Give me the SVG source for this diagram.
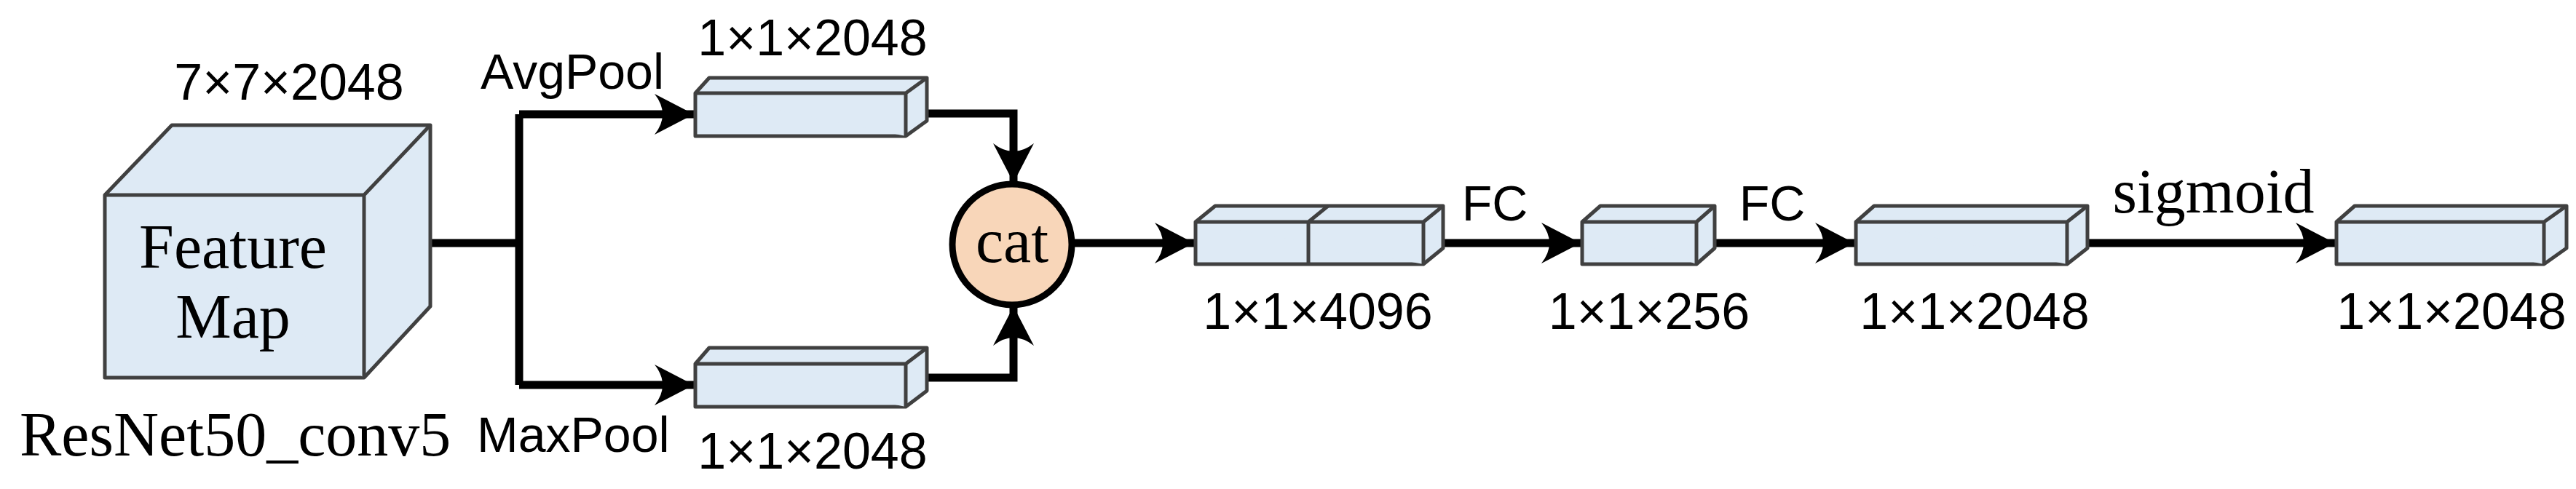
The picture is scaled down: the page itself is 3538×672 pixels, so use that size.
<svg xmlns="http://www.w3.org/2000/svg" width="3538" height="672" viewBox="0 0 3538 672">
<style>
.box{fill:#deeaf5;stroke:#404040;stroke-width:5;stroke-linejoin:round}
.ln{fill:none;stroke:#000;stroke-width:11}
.num{font-family:"Liberation Sans",Arial,sans-serif;font-size:70px;fill:#000}
.lbl{font-family:"Liberation Sans",Arial,sans-serif;font-size:68px;fill:#000}
.ser{font-family:"Liberation Serif","Times New Roman",serif;font-size:86px;fill:#000}
</style>
<defs>
<marker id="ah" markerUnits="userSpaceOnUse" markerWidth="70" markerHeight="70" viewBox="0 0 70 70" refX="60" refY="35" orient="auto">
<path d="M60,35 L6,7 Q28,35 6,63 Z" fill="#000"/>
</marker>
</defs>
<g id="connectors">
<path class="ln" d="M548,334 H713 M713,157 V529" />
<path class="ln" d="M713,157 H953" marker-end="url(#ah)"/>
<path class="ln" d="M713,529 H953" marker-end="url(#ah)"/>
<path class="ln" d="M1263,156 H1392 V251" marker-end="url(#ah)"/>
<path class="ln" d="M1263,519 H1392 V421" marker-end="url(#ah)"/>
<path class="ln" d="M1476,334 H1640" marker-end="url(#ah)"/>
<path class="ln" d="M1962,334 H2171" marker-end="url(#ah)"/>
<path class="ln" d="M2340,334 H2547" marker-end="url(#ah)"/>
<path class="ln" d="M2852,334 H3207" marker-end="url(#ah)"/>
</g>
<g id="featuremap">
<path class="box" d="M144,268 L236,172 H591 V421 L500,519 H144 Z"/>
<path class="box" d="M144,268 H500 V519 M500,268 L591,172" fill="none"/>
<text class="ser" x="320" y="368" text-anchor="middle">Feature</text>
<text class="ser" x="320" y="464" text-anchor="middle">Map</text>
<text class="num" x="397" y="137" text-anchor="middle">7×7×2048</text>
<text class="ser" x="27" y="626">ResNet50_conv5</text>
</g>
<g id="avgpool">
<path class="box" d="M955,128 L974,107 H1273 V166 L1244,187 H955 Z"/>
<path class="box" d="M955,128 H1244 V187 M1244,128 L1273,107" fill="none"/>
<text class="num" x="1116" y="76" text-anchor="middle">1×1×2048</text>
<text class="lbl" x="660" y="122">AvgPool</text>
</g>
<g id="maxpool">
<path class="box" d="M955,500 L974,478 H1273 V537 L1244,559 H955 Z"/>
<path class="box" d="M955,500 H1244 V559 M1244,500 L1273,478" fill="none"/>
<text class="num" x="1116" y="644" text-anchor="middle">1×1×2048</text>
<text class="lbl" x="655" y="621">MaxPool</text>
</g>
<g id="cat">
<ellipse cx="1390" cy="336" rx="82" ry="83" fill="#f8d6b9" stroke="#000" stroke-width="9"/>
<text class="ser" x="1390" y="360" text-anchor="middle">cat</text>
</g>
<g id="box4096">
<path class="box" d="M1642,305 L1669,283 H1982 V341 L1955,363 H1642 Z"/>
<path class="box" d="M1642,305 H1955 V363 M1955,305 L1982,283 M1797,305 V363 M1797,305 L1824,283" fill="none"/>
<text class="num" x="1810" y="452" text-anchor="middle">1×1×4096</text>
</g>
<g id="box256">
<path class="box" d="M2173,305 L2198,283 H2355 V341 L2330,363 H2173 Z"/>
<path class="box" d="M2173,305 H2330 V363 M2330,305 L2355,283" fill="none"/>
<text class="num" x="2265" y="452" text-anchor="middle">1×1×256</text>
<text class="lbl" x="2053" y="303" text-anchor="middle">FC</text>
</g>
<g id="box2048a">
<path class="box" d="M2549,305 L2574,283 H2867 V341 L2839,363 H2549 Z"/>
<path class="box" d="M2549,305 H2839 V363 M2839,305 L2867,283" fill="none"/>
<text class="num" x="2712" y="452" text-anchor="middle">1×1×2048</text>
<text class="lbl" x="2434" y="303" text-anchor="middle">FC</text>
</g>
<g id="box2048b">
<path class="box" d="M3209,305 L3234,283 H3525 V341 L3494,363 H3209 Z"/>
<path class="box" d="M3209,305 H3494 V363 M3494,305 L3525,283" fill="none"/>
<text class="num" x="3367" y="452" text-anchor="middle">1×1×2048</text>
<text class="ser" x="3040" y="292" text-anchor="middle">sigmoid</text>
</g>
</svg>
